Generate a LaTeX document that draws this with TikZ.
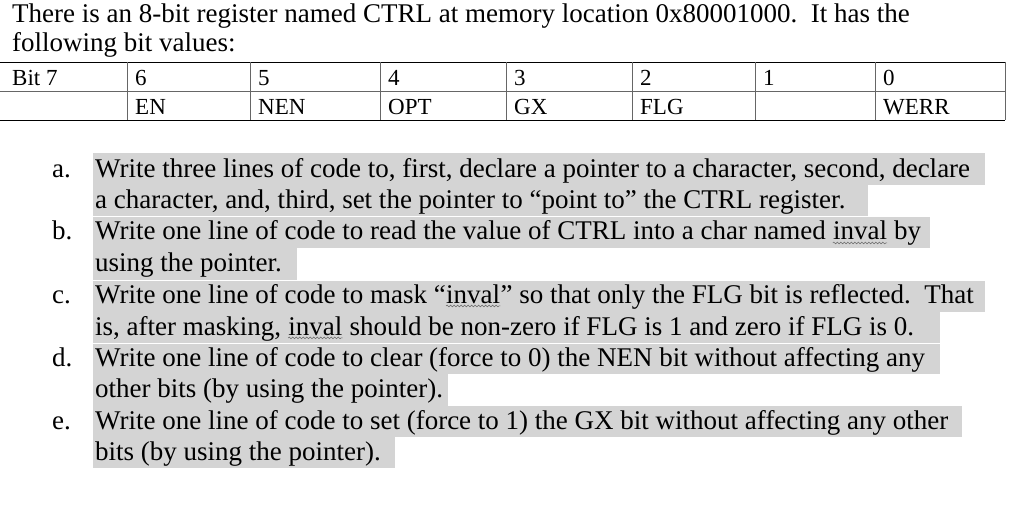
\documentclass[tikz,border=0pt]{standalone}
\usepackage{fontspec}
\setmainfont{Liberation Serif}
\usetikzlibrary{decorations.pathmorphing}
\tikzset{
  t/.style={anchor=base west,inner sep=0pt,font=\fontsize{27}{30}\selectfont},
  hd/.style={anchor=base west,inner sep=0pt,font=\fontsize{27}{30}\selectfont},
  tb/.style={anchor=base west,inner sep=0pt,font=\fontsize{23}{27}\selectfont},
  hl/.style={fill=black!17,draw=none},
  rule/.style={line width=0.8pt},
  vr/.style={line width=0.5pt,draw=black!60},
  wave/.style={decorate,decoration={snake,amplitude=0.9pt,segment length=3.5pt},draw=black!60,line width=0.5pt}
}
\newcommand{\wv}[1]{\tikz[baseline=(w.base)]{\node[inner sep=0pt,anchor=base] (w) {#1}; \draw[wave] ([yshift=-2.5pt]w.south west) -- ([yshift=-2.5pt]w.south east);}}
\begin{document}
\begin{tikzpicture}[x=1pt,y=-1pt]
\useasboundingbox (0,0) rectangle (1024,518);
\node[hd] (h1) at (12,23) {There is an 8-bit register named CTRL at memory location 0x80001000.\ \ It has the};
\node[hd] (h2) at (12,52) {following bit values:};
% table
\draw[rule] (0,62) -- (1005,62);
\draw[vr] (0,91) -- (1005,91);
\draw[rule] (0,120) -- (1005,120);
\foreach \x in {127,250,380,506,632,755,875,1005} \draw[vr] (\x,62) -- (\x,120);
\node[tb] (b7) at (12,86) {Bit 7};
\node[tb] (b6) at (135,86) {6};
\node[tb] (b5) at (258,86) {5};
\node[tb] (b4) at (388,86) {4};
\node[tb] (b3) at (514,86) {3};
\node[tb] (b2) at (640,86) {2};
\node[tb] (b1) at (763,86) {1};
\node[tb] (b0) at (883,86) {0};
\node[tb] (n6) at (135,115) {EN};
\node[tb] (n5) at (258,115) {NEN};
\node[tb] (n4) at (388,115) {OPT};
\node[tb] (n3) at (514,115) {GX};
\node[tb] (n2) at (640,115) {FLG};
\node[tb] (n0) at (883,115) {WERR};
% highlights
\fill[hl] (93,153) rectangle (985,185);
\fill[hl] (93,185) rectangle (868,216);
\fill[hl] (93,217) rectangle (930,248);
\fill[hl] (93,248) rectangle (297,280);
\fill[hl] (93,281) rectangle (985,312);
\fill[hl] (93,312) rectangle (940,343);
\fill[hl] (93,344) rectangle (940,374);
\fill[hl] (93,374) rectangle (448,406);
\fill[hl] (93,406) rectangle (962,437);
\fill[hl] (93,437) rectangle (395,468);
% list
\node[t] (la) at (52,178) {a.};
\node[t] (a1) at (95,178) {Write three lines of code to, first, declare a pointer to a character, second, declare};
\node[t] (a2) at (95,209) {a character, and, third, set the pointer to “point to” the CTRL register.};
\node[t] (lb) at (52,240) {b.};
\node[t] (c1b) at (95,240) {Write one line of code to read the value of CTRL into a char named \wv{inval} by};
\node[t] (c2b) at (95,272) {using the pointer.};
\node[t] (lc) at (52,303) {c.};
\node[t] (c1) at (95,303) {Write one line of code to mask “\wv{inval}” so that only the FLG bit is reflected.\ \ That};
\node[t] (c2) at (95,335) {is, after masking, \wv{inval} should be non-zero if FLG is 1 and zero if FLG is 0.};
\node[t] (ld) at (52,366) {d.};
\node[t] (d1) at (95,366) {Write one line of code to clear (force to 0) the NEN bit without affecting any};
\node[t] (d2) at (95,397) {other bits (by using the pointer).};
\node[t] (le) at (52,429) {e.};
\node[t] (e1) at (95,429) {Write one line of code to set (force to 1) the GX bit without affecting any other};
\node[t] (e2) at (95,460) {bits (by using the pointer).};
\end{tikzpicture}
\end{document}
